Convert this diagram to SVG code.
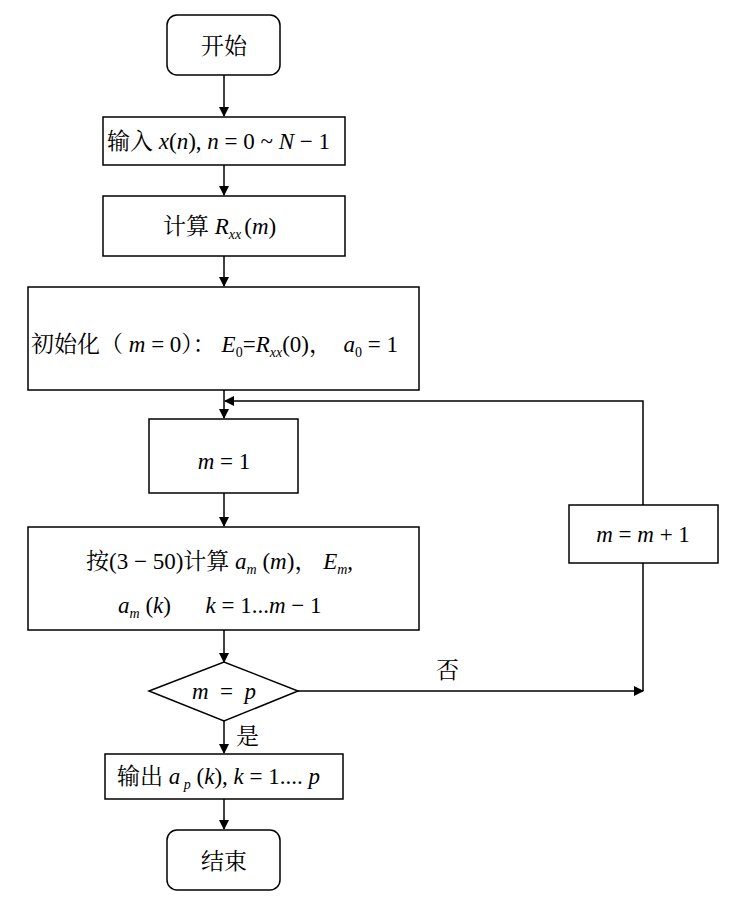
<svg xmlns="http://www.w3.org/2000/svg" width="732" height="920" viewBox="0 0 732 920">
<style>
.b{fill:#fff;stroke:#000;stroke-width:1.5}
.l{fill:none;stroke:#000;stroke-width:1.5}
text{font-family:"Times New Roman","Liberation Serif","Noto Serif CJK SC","Noto Sans CJK SC",serif;font-size:23px;fill:#000}
.i{font-style:italic}
.s{font-size:14px}
</style>
<defs><marker id="a" markerWidth="10" markerHeight="10" refX="9" refY="5" orient="auto" markerUnits="userSpaceOnUse"><path d="M0,0L10,5L0,10z"/></marker></defs>
<g id="connectors">
<line class="l" x1="224" y1="75" x2="224" y2="116" marker-end="url(#a)"/>
<line class="l" x1="224" y1="165" x2="224" y2="195" marker-end="url(#a)"/>
<line class="l" x1="224" y1="256" x2="224" y2="286" marker-end="url(#a)"/>
<line class="l" x1="224" y1="390" x2="224" y2="418" marker-end="url(#a)"/>
<line class="l" x1="224" y1="493" x2="224" y2="526" marker-end="url(#a)"/>
<line class="l" x1="224" y1="630" x2="224" y2="662" marker-end="url(#a)"/>
<line class="l" x1="224" y1="721" x2="224" y2="753" marker-end="url(#a)"/>
<line class="l" x1="224" y1="799" x2="224" y2="829" marker-end="url(#a)"/>
<line class="l" x1="298" y1="691" x2="643" y2="691" marker-end="url(#a)"/>
<line class="l" x1="643" y1="691" x2="643" y2="563"/>
<polyline class="l" points="643,505 643,401 225,401" marker-end="url(#a)"/>
<text x="436" y="678" font-size="21">否</text>
<text x="236" y="744" font-size="21">是</text>
</g>
<g id="start"><rect class="b" x="167" y="15" width="113" height="60" rx="10"/><text x="224" y="54" text-anchor="middle">开始</text></g>
<g id="input"><rect class="b" x="103" y="117" width="242" height="48"/><text x="107" y="149" xml:space="preserve">输入 <tspan class="i">x</tspan>(<tspan class="i">n</tspan>), <tspan class="i">n</tspan> = 0 ~ <tspan class="i">N</tspan> − 1</text></g>
<g id="calc"><rect class="b" x="103" y="196" width="242" height="60"/><text x="163" y="234">计算 <tspan class="i">R</tspan><tspan class="i s" dy="5">xx</tspan><tspan dy="-5" dx="3">(</tspan><tspan class="i">m</tspan>)</text></g>
<g id="init"><rect class="b" x="28" y="287" width="391" height="103"/><text x="31" y="352" xml:space="preserve">初始化（ <tspan class="i">m</tspan> = 0）： <tspan class="i">E</tspan><tspan class="s" dy="5">0</tspan><tspan dy="-5">=</tspan><tspan class="i">R</tspan><tspan class="i s" dy="5">xx</tspan><tspan dy="-5">(0)，  </tspan><tspan class="i">a</tspan><tspan class="s" dy="5">0</tspan><tspan dy="-5"> = 1</tspan></text></g>
<g id="m1"><rect class="b" x="149" y="419" width="149" height="74"/><text x="224" y="469" text-anchor="middle"><tspan class="i">m</tspan> = 1</text></g>
<g id="compute"><rect class="b" x="28" y="527" width="391" height="103"/>
<text x="86" y="569" xml:space="preserve">按(3 − 50)计算 <tspan class="i">a</tspan><tspan class="i s" dy="5">m</tspan><tspan dy="-5"> (</tspan><tspan class="i">m</tspan>)， <tspan class="i">E</tspan><tspan class="i s" dy="5">m</tspan><tspan dy="-5">,</tspan></text>
<text x="118" y="613" xml:space="preserve"><tspan class="i">a</tspan><tspan class="i s" dy="5">m</tspan><tspan dy="-5"> (</tspan><tspan class="i">k</tspan>)      <tspan class="i">k</tspan> = 1...<tspan class="i">m</tspan> − 1</text></g>
<g id="decision"><polygon class="b" points="149,691 224,662 298,691 224,721"/><text x="224" y="699" text-anchor="middle" xml:space="preserve"><tspan class="i">m</tspan>  =  <tspan class="i">p</tspan></text></g>
<g id="output"><rect class="b" x="105" y="754" width="238" height="45"/><text x="117" y="784" xml:space="preserve">输出 <tspan class="i">a</tspan><tspan class="i s" dy="5"> p</tspan><tspan dy="-5"> (</tspan><tspan class="i">k</tspan>), <tspan class="i">k</tspan> = 1.... <tspan class="i">p</tspan></text></g>
<g id="end"><rect class="b" x="167" y="830" width="113" height="60" rx="10"/><text x="224" y="869" text-anchor="middle">结束</text></g>
<g id="inc"><rect class="b" x="569" y="505" width="149" height="58"/><text x="643" y="542" text-anchor="middle"><tspan class="i">m</tspan> = <tspan class="i">m</tspan> + 1</text></g>
</svg>
